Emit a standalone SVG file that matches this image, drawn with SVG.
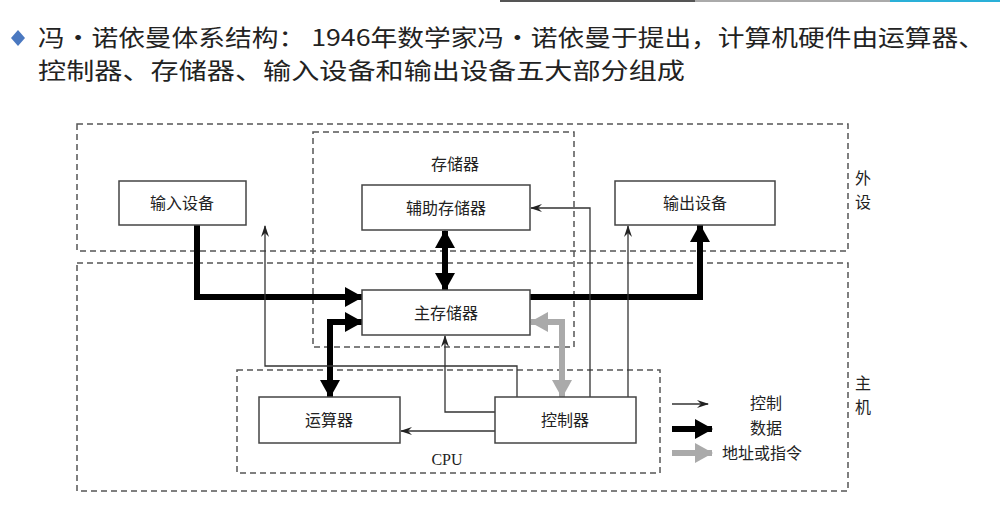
<svg xmlns="http://www.w3.org/2000/svg" width="1000" height="507" viewBox="0 0 1000 507">
<style>
.t{font-family:"Noto Sans CJK SC","Noto Sans",sans-serif;fill:#222}
.n{fill:#fff;stroke:#444;stroke-width:1.5}
.d{fill:none;stroke:#555;stroke-width:1.5;stroke-dasharray:6,4}
.thin{fill:none;stroke:#333;stroke-width:1.3}
.thick{fill:none;stroke:#000;stroke-width:6}
.gray{fill:none;stroke:#aaa;stroke-width:6}
</style>
<defs>
<marker id="ma" markerWidth="12" markerHeight="8" refX="11" refY="4" orient="auto" markerUnits="userSpaceOnUse"><path d="M0,0 L12,4 L0,8 L4,4 Z" fill="#222"/></marker>
<marker id="mb" markerWidth="18" markerHeight="20" refX="17" refY="10" orient="auto-start-reverse" markerUnits="userSpaceOnUse"><path d="M0,0 L18,10 L0,20 Z" fill="#000"/></marker>
<marker id="mg" markerWidth="18" markerHeight="20" refX="17" refY="10" orient="auto-start-reverse" markerUnits="userSpaceOnUse"><path d="M0,0 L18,10 L0,20 Z" fill="#aaa"/></marker>
</defs>
<rect x="0" y="0" width="1000" height="507" fill="#fff"/>
<rect x="500" y="0" width="195" height="2" fill="#555"/>
<rect x="695" y="0" width="195" height="2" fill="#aaa"/>
<rect x="890" y="0" width="110" height="2" fill="#2ab0d8"/>
<path d="M18,30 L25,38 L18,46 L11,38 Z" fill="#4a78c0"/>
<text class="t" x="38" y="46" font-size="23" textLength="947" lengthAdjust="spacingAndGlyphs">冯·诺依曼体系结构： 1946年数学家冯·诺依曼于提出，计算机硬件由运算器、</text>
<text class="t" x="38" y="79" font-size="23" textLength="647" lengthAdjust="spacingAndGlyphs">控制器、存储器、输入设备和输出设备五大部分组成</text>

<g id="groups">
<rect class="d" x="77" y="124" width="771" height="127"/>
<rect class="d" x="77" y="263" width="771" height="228"/>
<rect class="d" x="313" y="132" width="261" height="215"/>
<rect class="d" x="237" y="370" width="423" height="103"/>
<text class="t" x="455" y="170" font-size="16" text-anchor="middle">存储器</text>
<text class="t" x="447" y="465" font-size="16" text-anchor="middle" style="font-family:'Liberation Serif',serif">CPU</text>
<text class="t" x="863" y="184" font-size="16" text-anchor="middle">外</text>
<text class="t" x="863" y="208" font-size="16" text-anchor="middle">设</text>
<text class="t" x="863" y="389" font-size="16" text-anchor="middle">主</text>
<text class="t" x="863" y="413" font-size="16" text-anchor="middle">机</text>
</g>

<g id="connectors">
<path class="thick" d="M197,225 V297 H362" marker-end="url(#mb)"/>
<path class="thick" d="M530,297 H700 V225" marker-end="url(#mb)"/>
<path class="thick" d="M445,231 V290" marker-start="url(#mb)" marker-end="url(#mb)"/>
<path class="thick" d="M330,397 V322 H362" marker-start="url(#mb)" marker-end="url(#mb)"/>
<path class="gray" d="M531,322 H562 V397" marker-start="url(#mg)" marker-end="url(#mg)"/>
<path class="thin" d="M590,397 V208 H531" marker-end="url(#ma)"/>
<path class="thin" d="M628,397 V226" marker-end="url(#ma)"/>
<path class="thin" d="M495,412 H445 V336" marker-end="url(#ma)"/>
<path class="thin" d="M495,431 H401" marker-end="url(#ma)"/>
<path class="thin" d="M517,397 V366 H265 V226" marker-end="url(#ma)"/>
<path class="thin" d="M672,404 H708" marker-end="url(#ma)"/>
<path class="thick" d="M672,429 H712" marker-end="url(#mb)"/>
<path class="gray" d="M672,453 H712" marker-end="url(#mg)"/>
</g>

<g id="n-input"><rect class="n" x="119" y="181" width="127" height="44"/><text class="t" x="182" y="209" font-size="16" text-anchor="middle">输入设备</text></g>
<g id="n-aux"><rect class="n" x="362" y="185" width="168" height="45"/><text class="t" x="446" y="214" font-size="16" text-anchor="middle">辅助存储器</text></g>
<g id="n-output"><rect class="n" x="615" y="181" width="160" height="44"/><text class="t" x="695" y="209" font-size="16" text-anchor="middle">输出设备</text></g>
<g id="n-main"><rect class="n" x="362" y="290" width="168" height="45"/><text class="t" x="446" y="319" font-size="16" text-anchor="middle">主存储器</text></g>
<g id="n-alu"><rect class="n" x="259" y="397" width="141" height="46"/><text class="t" x="329" y="426" font-size="16" text-anchor="middle">运算器</text></g>
<g id="n-ctrl"><rect class="n" x="495" y="397" width="141" height="46"/><text class="t" x="565" y="426" font-size="16" text-anchor="middle">控制器</text></g>
<g id="legend">
<text class="t" x="766" y="409" font-size="16" text-anchor="middle">控制</text>
<text class="t" x="766" y="434" font-size="16" text-anchor="middle">数据</text>
<text class="t" x="762" y="459" font-size="16" text-anchor="middle">地址或指令</text>
</g>
</svg>
